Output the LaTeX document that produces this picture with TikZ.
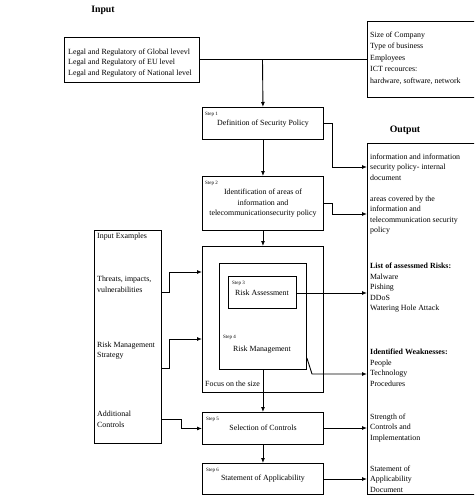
\documentclass[tikz,border=0pt]{standalone}
\usepackage{fontspec}
\setmainfont{Liberation Serif}
\usetikzlibrary{arrows.meta,calc}
\tikzset{
 box/.style={draw, line width=0.9pt, inner sep=0pt, anchor=north west, font=\fontsize{7.9}{10.5}\selectfont, align=center},
 txt/.style={font=\fontsize{7.9}{10.5}\selectfont, align=left, inner sep=0pt, anchor=west},
 steplbl/.style={font=\fontsize{5}{5.5}\selectfont, inner sep=0pt, anchor=west},
 arr/.style={line width=0.9pt, -{Latex[length=5pt,width=4pt]}},
 ln/.style={line width=0.9pt},
 ttl/.style={font=\fontsize{9.8}{11}\bfseries\selectfont, inner sep=0pt}
}
\begin{document}
\begin{tikzpicture}[x=1pt,y=-1pt]
\useasboundingbox (0,0) rectangle (474,495);
\clip (0,0) rectangle (474,495);
% titles
\node[ttl] (tin) at (103,10) {Input};
\node[ttl] (tout) at (405,130) {Output};
% input boxes
\node[box, minimum width=135pt, minimum height=45pt] (legal) at (64,37) {};
\node[txt] (legalt) at (68,63) {Legal and Regulatory of Global levevl\\Legal and Regulatory of EU level\\Legal and Regulatory of National level};
\node[box, minimum width=113pt, minimum height=76pt] (company) at (367,21) {};
\node[txt, font=\fontsize{7.9}{11.5}\selectfont] (companyt) at (370,58) {Size of Company\\Type of business\\Employees\\ICT recources:\\hardware, software, network};
\coordinate (j) at (262.5,59.5);
\draw[ln] (legal.east) -- (company.west |- legal.east);
% steps
\node[box, minimum width=121pt, minimum height=32pt] (s1) at (202,107) {\raisebox{-1pt}{Definition of Security Policy}};
\node[steplbl] (s1l) at (205,114) {Step 1};
\node[box, minimum width=121pt, minimum height=54pt] (s2) at (202,176) {\raisebox{-1pt}{\parbox{118pt}{\centering Identification of areas of\\information and\\telecommunicationsecurity policy}}};
\node[steplbl] (s2l) at (205,183) {Step 2};
\node[box, minimum width=121pt, minimum height=146pt] (focus) at (202,246) {};
\node[txt] (focust) at (205,384) {Focus on the size};
\node[box, minimum width=87pt, minimum height=106pt] (inner) at (219,263) {};
\node[box, minimum width=68pt, minimum height=32pt] (s3) at (228,276) {};
\node[txt, anchor=center] (s3t) at (262,293) {Risk Assessment};
\node[steplbl] (s3l) at (232,283) {Step 3};
\node[steplbl] (s4l) at (223,337) {Step 4};
\node[txt, anchor=center] (s4t) at (262,350) {Risk Management};
\node[box, minimum width=121pt, minimum height=32pt] (s5) at (202,412) {};
\node[txt, anchor=center] (s5t) at (263,428) {Selection of Controls};
\node[steplbl] (s5l) at (206,419) {Step 5};
\node[box, minimum width=121pt, minimum height=31pt] (s6) at (202,463) {};
\node[txt, anchor=center] (s6t) at (263,479) {Statement of Applicability};
\node[steplbl] (s6l) at (206,470) {Step 6};
% input examples
\node[box, minimum width=67pt, minimum height=213pt] (inex) at (94,230) {};
\node[txt] (inext) at (97,237) {Input Examples};
\node[txt] (thr) at (97,284.5) {Threats, impacts,\\vulnerabilities};
\node[txt] (rms) at (97,350.5) {Risk Management\\Strategy};
\node[txt] (addc) at (97,419.5) {Additional\\Controls};
% output
\node[box, minimum width=113pt, minimum height=351pt] (out) at (367,143) {};
\node[txt] (o1) at (370,167) {information and information\\security policy- internal\\document};
\node[txt] (o2) at (370,215) {areas covered by the\\information and\\telecommunication security\\policy};
\node[txt] (o3) at (370,288) {\textbf{List of assessmed Risks:}\\Malware\\Pishing\\DDoS\\Watering Hole Attack};
\node[txt] (o4) at (370,368) {\textbf{Identified Weaknesses:}\\People\\Technology\\Procedures};
\node[txt] (o5) at (370,428) {Strength of\\Controls and\\Implementation};
\node[txt] (o6) at (370,479) {Statement of\\Applicability\\Document};
% connectors
\draw[arr] (j) -- (s1.north);
\draw[arr] (s1.south) -- (s2.north);
\draw[arr] (s2.south) -- (focus.north);
\draw[arr] (inner.south) -- (s5.north);
\draw[arr] (s5.south) -- (s6.north);
\coordinate (b1) at (332,123);
\coordinate (b2) at (332,167);
\draw[arr] (s1.east |- b1) -- (b1) -- (b2) -- (out.west |- b2);
\coordinate (b3) at (332,203);
\coordinate (b4) at (332,214);
\draw[arr] (s2.east |- b3) -- (b3) -- (b4) -- (out.west |- b4);
\draw[arr] (s3.east |- s3t) -- (out.west |- s3t);
\coordinate (d1) at (306,358);
\coordinate (d2) at (312,374);
\draw[arr] (inner.east |- d1) -- (d2) -- (out.west |- d2);
\draw[arr] (s5.east |- s5t) -- (out.west |- s5t);
\draw[arr] (s6.east |- s6t) -- (out.west |- s6t);
\coordinate (c1) at (169,292);
\coordinate (c1b) at (169,272);
\draw[arr] (inex.east |- c1) -- (c1) -- (c1b) -- (focus.west |- c1b);
\coordinate (c2) at (169,368);
\coordinate (c2b) at (169,339);
\draw[arr] (inex.east |- c2) -- (c2) -- (c2b) -- (focus.west |- c2b);
\coordinate (c3) at (181,419);
\draw[arr] (inex.east |- c3) -- (c3) |- (s5.west);
\end{tikzpicture}
\end{document}
